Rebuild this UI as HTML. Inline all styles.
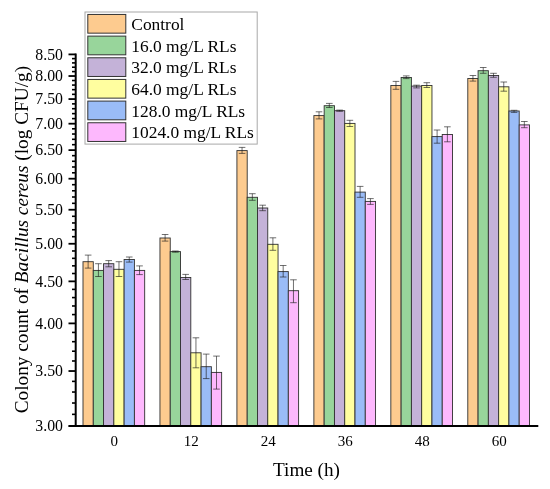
<!DOCTYPE html>
<html><head><meta charset="utf-8"><title>Colony count of Bacillus cereus</title>
<style>
html,body{margin:0;padding:0;background:#fff;}
svg{display:block;}
text{font-family:"Liberation Serif","Times New Roman",serif;fill:#000;}
</style></head><body>
<svg width="550" height="489" viewBox="0 0 550 489">
<rect width="550" height="489" fill="#ffffff"/>
<g stroke="#303030" stroke-width="0.9">
<rect x="83.00" y="261.70" width="10.28" height="164.35" fill="#FDCB8F"/>
<rect x="93.28" y="270.40" width="10.28" height="155.65" fill="#98D59B"/>
<rect x="103.56" y="263.70" width="10.28" height="162.35" fill="#C4B2D8"/>
<rect x="113.84" y="269.30" width="10.28" height="156.75" fill="#FFFE9F"/>
<rect x="124.12" y="259.50" width="10.28" height="166.55" fill="#9ABCF7"/>
<rect x="134.40" y="270.40" width="10.28" height="155.65" fill="#FDB8FD"/>
<rect x="159.96" y="238.00" width="10.28" height="188.05" fill="#FDCB8F"/>
<rect x="170.24" y="251.60" width="10.28" height="174.45" fill="#98D59B"/>
<rect x="180.52" y="277.50" width="10.28" height="148.55" fill="#C4B2D8"/>
<rect x="190.80" y="352.80" width="10.28" height="73.25" fill="#FFFE9F"/>
<rect x="201.08" y="366.70" width="10.28" height="59.35" fill="#9ABCF7"/>
<rect x="211.36" y="372.40" width="10.28" height="53.65" fill="#FDB8FD"/>
<rect x="236.92" y="150.60" width="10.28" height="275.45" fill="#FDCB8F"/>
<rect x="247.20" y="197.30" width="10.28" height="228.75" fill="#98D59B"/>
<rect x="257.48" y="208.00" width="10.28" height="218.05" fill="#C4B2D8"/>
<rect x="267.76" y="244.30" width="10.28" height="181.75" fill="#FFFE9F"/>
<rect x="278.04" y="271.60" width="10.28" height="154.45" fill="#9ABCF7"/>
<rect x="288.32" y="290.70" width="10.28" height="135.35" fill="#FDB8FD"/>
<rect x="313.88" y="115.60" width="10.28" height="310.45" fill="#FDCB8F"/>
<rect x="324.16" y="105.70" width="10.28" height="320.35" fill="#98D59B"/>
<rect x="334.44" y="110.70" width="10.28" height="315.35" fill="#C4B2D8"/>
<rect x="344.72" y="123.40" width="10.28" height="302.65" fill="#FFFE9F"/>
<rect x="355.00" y="192.10" width="10.28" height="233.95" fill="#9ABCF7"/>
<rect x="365.28" y="201.40" width="10.28" height="224.65" fill="#FDB8FD"/>
<rect x="390.84" y="85.50" width="10.28" height="340.55" fill="#FDCB8F"/>
<rect x="401.12" y="77.50" width="10.28" height="348.55" fill="#98D59B"/>
<rect x="411.40" y="86.10" width="10.28" height="339.95" fill="#C4B2D8"/>
<rect x="421.68" y="85.50" width="10.28" height="340.55" fill="#FFFE9F"/>
<rect x="431.96" y="136.60" width="10.28" height="289.45" fill="#9ABCF7"/>
<rect x="442.24" y="134.50" width="10.28" height="291.55" fill="#FDB8FD"/>
<rect x="467.80" y="78.50" width="10.28" height="347.55" fill="#FDCB8F"/>
<rect x="478.08" y="70.70" width="10.28" height="355.35" fill="#98D59B"/>
<rect x="488.36" y="75.50" width="10.28" height="350.55" fill="#C4B2D8"/>
<rect x="498.64" y="86.80" width="10.28" height="339.25" fill="#FFFE9F"/>
<rect x="508.92" y="111.00" width="10.28" height="315.05" fill="#9ABCF7"/>
<rect x="519.20" y="124.90" width="10.28" height="301.15" fill="#FDB8FD"/>
</g>
<g stroke="#181818" stroke-width="0.62" fill="none">
<path d="M88.14 255.10V268.10M84.84 255.10H91.44M84.84 268.10H91.44"/>
<path d="M98.42 263.70V276.50M95.12 263.70H101.72M95.12 276.50H101.72"/>
<path d="M108.70 260.60V266.80M105.40 260.60H112.00M105.40 266.80H112.00"/>
<path d="M118.98 261.70V276.50M115.68 261.70H122.28M115.68 276.50H122.28"/>
<path d="M129.26 257.00V262.10M125.96 257.00H132.56M125.96 262.10H132.56"/>
<path d="M139.54 265.90V274.60M136.24 265.90H142.84M136.24 274.60H142.84"/>
<path d="M165.10 234.50V241.10M161.80 234.50H168.40M161.80 241.10H168.40"/>
<path d="M175.38 251.00V252.20M172.08 251.00H178.68M172.08 252.20H178.68"/>
<path d="M185.66 274.40V279.50M182.36 274.40H188.96M182.36 279.50H188.96"/>
<path d="M195.94 337.80V367.80M192.64 337.80H199.24M192.64 367.80H199.24"/>
<path d="M206.22 354.10V378.60M202.92 354.10H209.52M202.92 378.60H209.52"/>
<path d="M216.50 356.10V389.10M213.20 356.10H219.80M213.20 389.10H219.80"/>
<path d="M242.06 147.40V153.40M238.76 147.40H245.36M238.76 153.40H245.36"/>
<path d="M252.34 193.70V200.30M249.04 193.70H255.64M249.04 200.30H255.64"/>
<path d="M262.62 205.20V210.70M259.32 205.20H265.92M259.32 210.70H265.92"/>
<path d="M272.90 237.80V250.30M269.60 237.80H276.20M269.60 250.30H276.20"/>
<path d="M283.18 265.50V277.00M279.88 265.50H286.48M279.88 277.00H286.48"/>
<path d="M293.46 279.80V302.70M290.16 279.80H296.76M290.16 302.70H296.76"/>
<path d="M319.02 111.80V118.90M315.72 111.80H322.32M315.72 118.90H322.32"/>
<path d="M329.30 103.40V107.50M326.00 103.40H332.60M326.00 107.50H332.60"/>
<path d="M339.58 110.10V111.30M336.28 110.10H342.88M336.28 111.30H342.88"/>
<path d="M349.86 120.30V126.50M346.56 120.30H353.16M346.56 126.50H353.16"/>
<path d="M360.14 186.40V197.30M356.84 186.40H363.44M356.84 197.30H363.44"/>
<path d="M370.42 198.60V204.40M367.12 198.60H373.72M367.12 204.40H373.72"/>
<path d="M395.98 81.40V89.30M392.68 81.40H399.28M392.68 89.30H399.28"/>
<path d="M406.26 75.90V78.60M402.96 75.90H409.56M402.96 78.60H409.56"/>
<path d="M416.54 85.20V87.90M413.24 85.20H419.84M413.24 87.90H419.84"/>
<path d="M426.82 82.70V87.50M423.52 82.70H430.12M423.52 87.50H430.12"/>
<path d="M437.10 130.00V143.20M433.80 130.00H440.40M433.80 143.20H440.40"/>
<path d="M447.38 126.80V141.80M444.08 126.80H450.68M444.08 141.80H450.68"/>
<path d="M472.94 75.50V81.10M469.64 75.50H476.24M469.64 81.10H476.24"/>
<path d="M483.22 67.50V73.30M479.92 67.50H486.52M479.92 73.30H486.52"/>
<path d="M493.50 73.30V77.30M490.20 73.30H496.80M490.20 77.30H496.80"/>
<path d="M503.78 82.00V91.20M500.48 82.00H507.08M500.48 91.20H507.08"/>
<path d="M514.06 110.30V112.40M510.76 110.30H517.36M510.76 112.40H517.36"/>
<path d="M524.34 121.50V127.70M521.04 121.50H527.64M521.04 127.70H527.64"/>
</g>
<g stroke="#000" stroke-width="2" fill="none">
<path d="M75.7 53.4V427.05"/>
<path d="M68.7 426.05H538.3"/>
</g>
<g stroke="#000" stroke-width="1.8">
<path d="M68.5 426.05H75.7"/>
<path d="M72.0 414.35H75.7" stroke-width="1.6"/>
<path d="M72.0 403.02H75.7" stroke-width="1.6"/>
<path d="M72.0 392.04H75.7" stroke-width="1.6"/>
<path d="M72.0 381.38H75.7" stroke-width="1.6"/>
<path d="M68.5 371.04H75.7"/>
<path d="M72.0 360.99H75.7" stroke-width="1.6"/>
<path d="M72.0 351.21H75.7" stroke-width="1.6"/>
<path d="M72.0 341.69H75.7" stroke-width="1.6"/>
<path d="M72.0 332.42H75.7" stroke-width="1.6"/>
<path d="M68.5 323.39H75.7"/>
<path d="M72.0 314.58H75.7" stroke-width="1.6"/>
<path d="M72.0 305.98H75.7" stroke-width="1.6"/>
<path d="M72.0 297.58H75.7" stroke-width="1.6"/>
<path d="M72.0 289.38H75.7" stroke-width="1.6"/>
<path d="M68.5 281.36H75.7"/>
<path d="M72.0 273.51H75.7" stroke-width="1.6"/>
<path d="M72.0 265.84H75.7" stroke-width="1.6"/>
<path d="M72.0 258.33H75.7" stroke-width="1.6"/>
<path d="M72.0 250.97H75.7" stroke-width="1.6"/>
<path d="M68.5 243.76H75.7"/>
<path d="M72.0 236.69H75.7" stroke-width="1.6"/>
<path d="M72.0 229.76H75.7" stroke-width="1.6"/>
<path d="M72.0 222.96H75.7" stroke-width="1.6"/>
<path d="M72.0 216.29H75.7" stroke-width="1.6"/>
<path d="M68.5 209.75H75.7"/>
<path d="M72.0 203.32H75.7" stroke-width="1.6"/>
<path d="M72.0 197.00H75.7" stroke-width="1.6"/>
<path d="M72.0 190.79H75.7" stroke-width="1.6"/>
<path d="M72.0 184.69H75.7" stroke-width="1.6"/>
<path d="M68.5 178.70H75.7"/>
<path d="M72.0 172.80H75.7" stroke-width="1.6"/>
<path d="M72.0 166.99H75.7" stroke-width="1.6"/>
<path d="M72.0 161.28H75.7" stroke-width="1.6"/>
<path d="M72.0 155.66H75.7" stroke-width="1.6"/>
<path d="M68.5 150.13H75.7"/>
<path d="M72.0 144.68H75.7" stroke-width="1.6"/>
<path d="M72.0 139.32H75.7" stroke-width="1.6"/>
<path d="M72.0 134.03H75.7" stroke-width="1.6"/>
<path d="M72.0 128.82H75.7" stroke-width="1.6"/>
<path d="M68.5 123.69H75.7"/>
<path d="M72.0 118.62H75.7" stroke-width="1.6"/>
<path d="M72.0 113.63H75.7" stroke-width="1.6"/>
<path d="M72.0 108.71H75.7" stroke-width="1.6"/>
<path d="M72.0 103.86H75.7" stroke-width="1.6"/>
<path d="M68.5 99.07H75.7"/>
<path d="M72.0 94.34H75.7" stroke-width="1.6"/>
<path d="M72.0 89.67H75.7" stroke-width="1.6"/>
<path d="M72.0 85.07H75.7" stroke-width="1.6"/>
<path d="M72.0 80.52H75.7" stroke-width="1.6"/>
<path d="M68.5 76.03H75.7"/>
<path d="M72.0 71.60H75.7" stroke-width="1.6"/>
<path d="M72.0 67.22H75.7" stroke-width="1.6"/>
<path d="M72.0 62.90H75.7" stroke-width="1.6"/>
<path d="M72.0 58.62H75.7" stroke-width="1.6"/>
<path d="M68.5 54.40H75.7"/>
</g>
<g font-size="15.8" text-anchor="end">
<text x="63" y="431.25">3.00</text>
<text x="63" y="376.24">3.50</text>
<text x="63" y="328.59">4.00</text>
<text x="63" y="286.56">4.50</text>
<text x="63" y="248.96">5.00</text>
<text x="63" y="214.95">5.50</text>
<text x="63" y="183.90">6.00</text>
<text x="63" y="155.33">6.50</text>
<text x="63" y="128.89">7.00</text>
<text x="63" y="104.27">7.50</text>
<text x="63" y="81.23">8.00</text>
<text x="63" y="59.60">8.50</text>
</g>
<g font-size="15" text-anchor="middle">
<text x="114.15" y="445.8">0</text>
<text x="191.15" y="445.8">12</text>
<text x="268.15" y="445.8">24</text>
<text x="345.15" y="445.8">36</text>
<text x="422.15" y="445.8">48</text>
<text x="499.15" y="445.8">60</text>
</g>
<text x="306.5" y="476" font-size="19.2" text-anchor="middle">Time (h)</text>
<text transform="translate(28.2 239.6) rotate(-90)" font-size="19.3" text-anchor="middle">Colony count of <tspan font-style="italic">Bacillus cereus</tspan> (log CFU/g)</text>
<rect x="85" y="12" width="172.2" height="132.1" fill="#fff" stroke="#a8a8a8" stroke-width="1"/>
<rect x="87.8" y="14.45" width="38" height="18.7" fill="#FDCB8F" stroke="#333" stroke-width="1"/>
<text x="131.3" y="30.05" font-size="17.4">Control</text>
<rect x="87.8" y="36.11" width="38" height="18.7" fill="#98D59B" stroke="#333" stroke-width="1"/>
<text x="131.3" y="51.71" font-size="17.4">16.0 mg/L RLs</text>
<rect x="87.8" y="57.77" width="38" height="18.7" fill="#C4B2D8" stroke="#333" stroke-width="1"/>
<text x="131.3" y="73.37" font-size="17.4">32.0 mg/L RLs</text>
<rect x="87.8" y="79.43" width="38" height="18.7" fill="#FFFE9F" stroke="#333" stroke-width="1"/>
<text x="131.3" y="95.03" font-size="17.4">64.0 mg/L RLs</text>
<rect x="87.8" y="101.09" width="38" height="18.7" fill="#9ABCF7" stroke="#333" stroke-width="1"/>
<text x="131.3" y="116.69" font-size="17.4">128.0 mg/L RLs</text>
<rect x="87.8" y="122.75" width="38" height="18.7" fill="#FDB8FD" stroke="#333" stroke-width="1"/>
<text x="131.3" y="138.35" font-size="17.4">1024.0 mg/L RLs</text>
</svg></body></html>
